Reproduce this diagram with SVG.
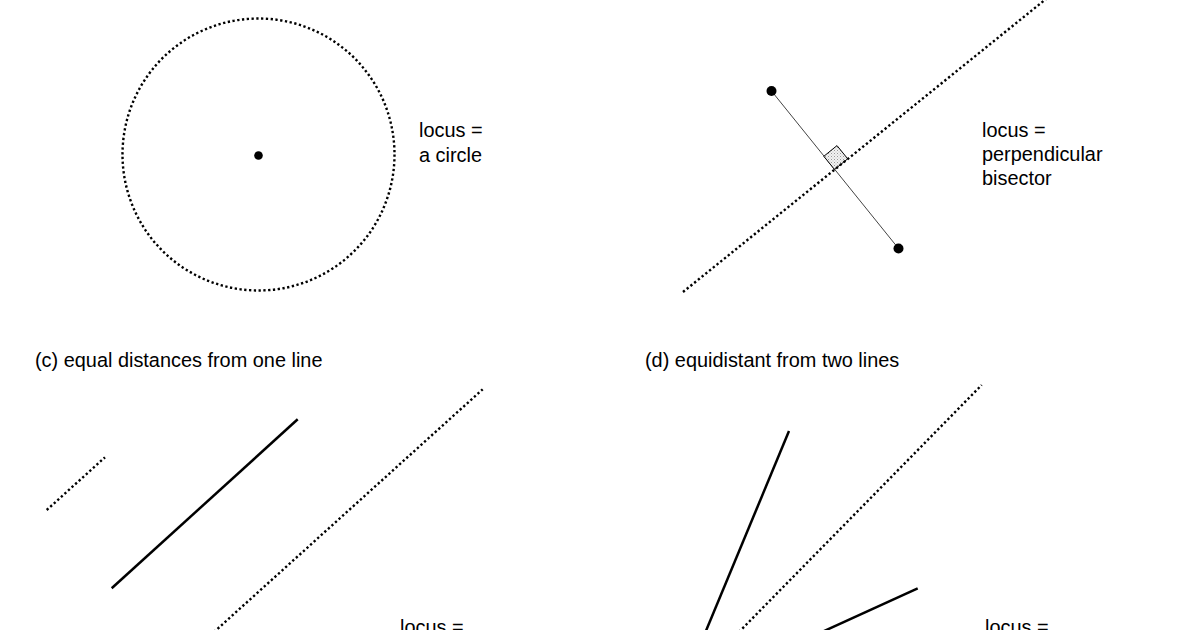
<svg xmlns="http://www.w3.org/2000/svg" width="1200" height="630" viewBox="0 0 1200 630">
<defs>
<style>
.dot{fill:none;stroke:#000;stroke-width:2.4;stroke-dasharray:2.3 2.5}
.solid{fill:none;stroke:#000;stroke-width:2.5}
.thin{fill:none;stroke:#444;stroke-width:1}
.pt{fill:#000}
text{font-family:"Liberation Sans",Arial,sans-serif;font-size:19.9px;fill:#000}
</style>
<pattern id="stip" width="3" height="3" patternUnits="userSpaceOnUse">
<rect width="3" height="3" fill="#f2f2f2"/>
<rect x="0" y="0" width="1" height="1" fill="#999"/>
<rect x="1.5" y="1.5" width="1" height="1" fill="#bbb"/>
</pattern>
</defs>
<rect width="1200" height="630" fill="#fff"/>
<g id="panel-a">
<circle class="dot" cx="258.5" cy="154.5" r="136"/>
<circle class="pt" cx="258.5" cy="155.5" r="4.3"/>
<text x="419" y="137">locus =</text>
<text x="419" y="162">a circle</text>
</g>
<g id="panel-b">
<line class="thin" x1="771.5" y1="91" x2="898.5" y2="248.5"/>
<polygon points="834.5,169.5 823.8,156.3 837,145.6 847.7,158.8" fill="url(#stip)" stroke="#000" stroke-width="1"/>
<line class="dot" x1="683" y1="292" x2="1046" y2="-1"/>
<circle class="pt" cx="771.5" cy="91" r="5"/>
<circle class="pt" cx="898.5" cy="248.5" r="5"/>
<text x="982" y="137">locus =</text>
<text x="982" y="161">perpendicular</text>
<text x="982" y="185">bisector</text>
</g>
<g id="panel-c">
<text x="35" y="367">(c) equal distances from one line</text>
<line class="dot" x1="46.7" y1="510" x2="105" y2="457.3"/>
<line class="solid" x1="111.7" y1="588.3" x2="297.7" y2="419.3"/>
<line class="dot" x1="214" y1="632" x2="482.7" y2="389.3"/>
<text x="400" y="634">locus =</text>
</g>
<g id="panel-d">
<text x="645" y="367">(d) equidistant from two lines</text>
<line class="solid" x1="705.5" y1="632" x2="789" y2="431"/>
<line class="dot" x1="739" y1="632" x2="981.7" y2="385"/>
<line class="solid" x1="822" y1="632" x2="917.7" y2="588.3"/>
<text x="985" y="634">locus =</text>
</g>
<g id="connectors"></g>
</svg>
